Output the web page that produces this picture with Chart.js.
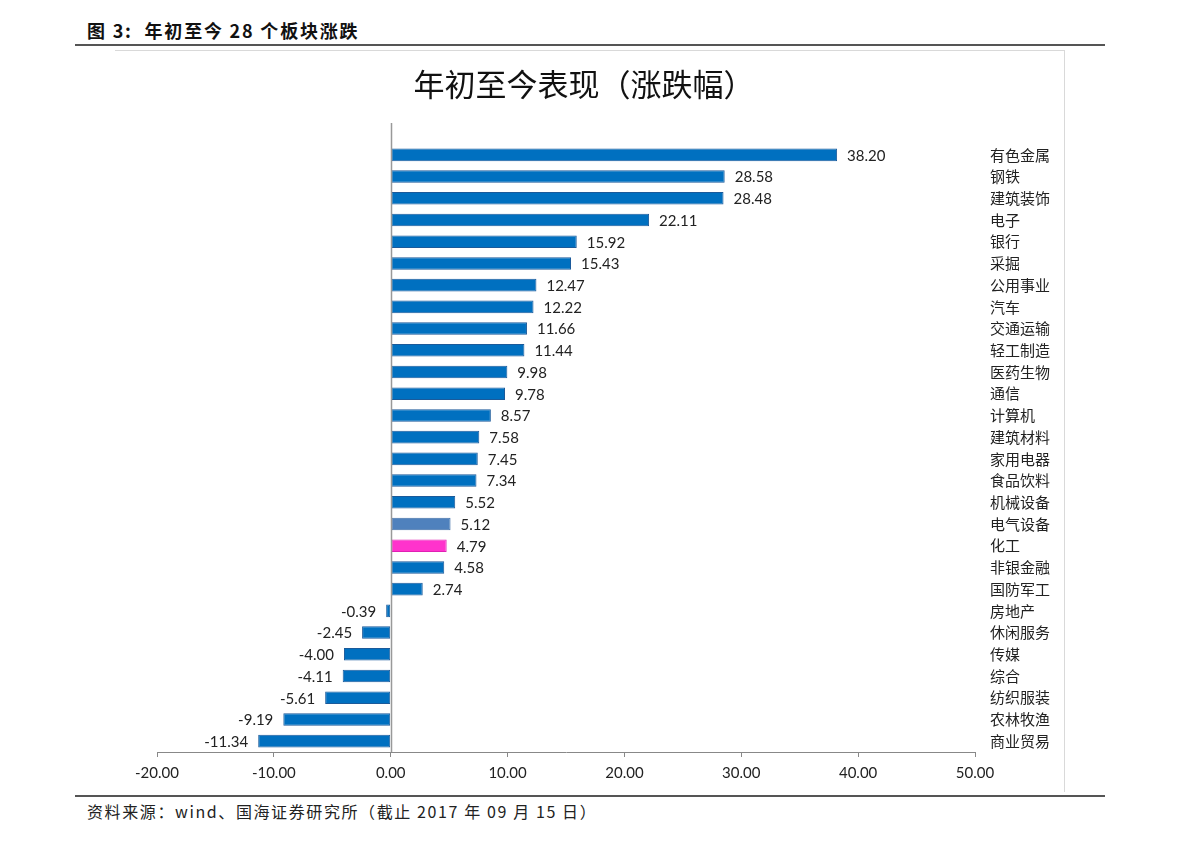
<!DOCTYPE html>
<html>
<head>
<meta charset="utf-8">
<script src="https://cdn.jsdelivr.net/npm/chart.js@4.4.1/dist/chart.umd.min.js"></script>
<style>
  body { margin: 0; background: #fff; width: 1191px; height: 842px; position: relative; overflow: hidden; }
  .fig-title { position: absolute; left: 87px; top: 17px; font: 700 18px "Noto Sans CJK SC", "Liberation Sans", sans-serif;
               color: #111; letter-spacing: 1.8px; white-space: pre; }
  .rule { position: absolute; left: 75px; width: 1030px; height: 2px; background: #555; }
  .box { position: absolute; left: 115px; top: 50px; width: 949px; height: 741px;
         border-top: 1px solid #d9d9d9; border-right: 1px solid #d9d9d9; }
  .chart-title { position: absolute; left: 0; width: 1168px; top: 60px; text-align: center;
                 font: 31px "Noto Sans CJK SC", sans-serif; color: #111; }
  .source { position: absolute; left: 87px; top: 799px; font: 16px "Noto Sans CJK SC", "Liberation Sans", sans-serif;
            color: #222; letter-spacing: 1.6px; white-space: pre; }
</style>
</head>
<body>
<div class="fig-title">图 3:  年初至今 28 个板块涨跌</div>
<div class="rule" style="top:44px"></div>
<div class="box"><canvas id="c" width="949" height="741"></canvas></div>
<div class="chart-title">年初至今表现（涨跌幅）</div>
<div class="rule" style="top:795px"></div>
<div class="source">资料来源：wind、国海证券研究所（截止 2017 年 09 月 15 日）</div>
<script>
// sectors, top to bottom
const sectors = ['有色金属', '钢铁', '建筑装饰', '电子', '银行', '采掘', '公用事业', '汽车', '交通运输', '轻工制造',
  '医药生物', '通信', '计算机', '建筑材料', '家用电器', '食品饮料', '机械设备', '电气设备', '化工', '非银金融',
  '国防军工', '房地产', '休闲服务', '传媒', '综合', '纺织服装', '农林牧渔', '商业贸易'];
const changes = [38.20, 28.58, 28.48, 22.11, 15.92, 15.43, 12.47, 12.22, 11.66, 11.44,
  9.98, 9.78, 8.57, 7.58, 7.45, 7.34, 5.52, 5.12, 4.79, 4.58,
  2.74, -0.39, -2.45, -4.00, -4.11, -5.61, -9.19, -11.34];
const xMin = -20, xMax = 50, xStep = 10;

const BLUE = '#0070C0', STEEL = '#4F81BD', PINK = '#FF33CC';
const fillColors = sectors.map(s => s === '电气设备' ? STEEL : s === '化工' ? PINK : BLUE);
const edgeColors = sectors.map(s => s === '电气设备' ? '#3F6FA8' : s === '化工' ? '#E020B4' : '#1B5A9A');

const numFont = 'Lato, "Open Sans", "Liberation Sans", sans-serif';

// zero line that runs a bit above the first bar
const zeroLine = {
  id: 'zeroLine',
  afterDatasetsDraw(chart) {
    const { ctx, chartArea, scales } = chart;
    const x = Math.round(scales.x.getPixelForValue(0)) + 0.5;
    ctx.save();
    ctx.strokeStyle = '#999';
    ctx.lineWidth = 1.5;
    ctx.beginPath();
    ctx.moveTo(x, chartArea.top - 21);
    ctx.lineTo(x, chartArea.bottom);
    ctx.stroke();
    ctx.restore();
  }
};

// value labels at bar ends
const valueLabels = {
  id: 'valueLabels',
  afterDatasetsDraw(chart) {
    const { ctx } = chart;
    const meta = chart.getDatasetMeta(0);
    ctx.save();
    ctx.font = '15px ' + numFont;
    ctx.fillStyle = '#222';
    ctx.textBaseline = 'middle';
    meta.data.forEach((bar, i) => {
      const v = changes[i];
      if (v >= 0) {
        ctx.textAlign = 'left';
        ctx.fillText(v.toFixed(2), bar.x + 10, bar.y + 1);
      } else {
        ctx.textAlign = 'right';
        ctx.fillText(v.toFixed(2), bar.x - 10, bar.y + 1);
      }
    });
    ctx.restore();
  }
};

new Chart(document.getElementById('c'), {
  type: 'bar',
  data: {
    labels: sectors,
    datasets: [{
      data: changes,
      backgroundColor: fillColors,
      borderColor: edgeColors,
      borderWidth: 1,
      borderSkipped: false,
      barPercentage: 0.58,
      categoryPercentage: 1
    }]
  },
  options: {
    indexAxis: 'y',
    responsive: false,
    animation: false,
    layout: { padding: { left: 42, right: 0, top: 93, bottom: 0 } },
    scales: {
      x: {
        min: xMin, max: xMax,
        afterFit: s => { s.height = 40; },
        ticks: { stepSize: xStep, padding: 7, color: '#222', font: { family: numFont, size: 15 },
                 callback: v => Number(v).toFixed(2) },
        grid: { drawOnChartArea: false, drawTicks: true, tickLength: 5, color: '#888' },
        border: { display: true, color: '#888', width: 1 }
      },
      y: {
        position: 'right',
        afterFit: s => { s.width = 89; },
        ticks: { padding: 15, color: '#222', font: { family: '"Noto Sans CJK SC", sans-serif', size: 15, lineHeight: 1.05 } },
        grid: { display: false, drawTicks: false },
        border: { display: false }
      }
    },
    plugins: {
      legend: { display: false },
      tooltip: { enabled: false },
      title: { display: false }
    }
  },
  plugins: [zeroLine, valueLabels]
});
</script>
</body>
</html>
